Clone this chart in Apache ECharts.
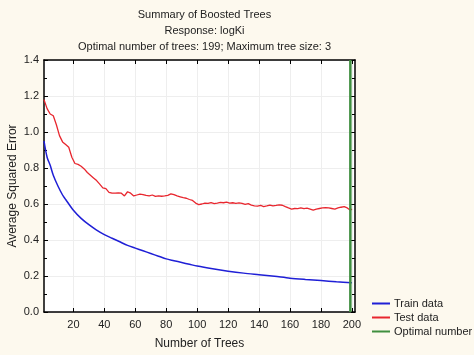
<!DOCTYPE html>
<html><head><meta charset="utf-8">
<script src="https://cdn.jsdelivr.net/npm/echarts@6/dist/echarts.min.js"></script>
<style>html,body{margin:0;padding:0;background:#FDF9EE;}#c{width:474px;height:355px;}</style>
</head><body><div id="c"></div>
<script>
const xTicks = [20,40,60,80,100,120,140,160,180,200];
const testTrees = [1,3,5,7,9,11,13,15,17,19,21,23,25,27,29,31,33,35,37,39,41,43,45,47,49,51,53,55,57,59,61,63,65,67,69,71,73,75,77,79,81,83,85,87,89,91,93,95,97,99,101,103,105,107,109,111,113,115,117,119,121,123,125,127,129,131,133,135,137,139,141,143,145,147,149,151,153,155,157,159,161,163,165,167,169,171,173,175,177,179,181,183,185,187,189,191,193,195,197,199,200];
const testError = [1.18,1.13,1.10,1.09,1.04,0.98,0.945,0.93,0.915,0.86,0.825,0.82,0.81,0.795,0.775,0.76,0.745,0.73,0.71,0.69,0.685,0.665,0.66,0.66,0.662,0.66,0.645,0.668,0.66,0.645,0.65,0.655,0.652,0.648,0.645,0.65,0.642,0.645,0.643,0.645,0.648,0.656,0.652,0.645,0.64,0.635,0.632,0.625,0.62,0.605,0.597,0.6,0.605,0.603,0.607,0.602,0.605,0.609,0.607,0.61,0.605,0.607,0.604,0.606,0.603,0.598,0.602,0.594,0.59,0.588,0.592,0.586,0.589,0.594,0.59,0.592,0.595,0.593,0.585,0.578,0.572,0.575,0.574,0.578,0.574,0.577,0.572,0.566,0.572,0.575,0.578,0.58,0.578,0.575,0.572,0.578,0.582,0.585,0.578,0.565,0.572];
const trainTrees = [1,3,5,7,10,13,15,20,25,30,35,40,45,50,55,60,65,70,75,80,85,90,95,100,110,120,130,140,150,160,170,180,190,200];
const trainError = [0.95,0.86,0.815,0.76,0.70,0.65,0.625,0.565,0.52,0.485,0.455,0.43,0.41,0.39,0.37,0.355,0.34,0.325,0.31,0.295,0.285,0.275,0.265,0.255,0.24,0.227,0.216,0.207,0.198,0.188,0.181,0.175,0.168,0.162];
const optimalTrees = 199;
const yMin = 0, yMax = 1.4;
const titleLines = ['Summary of Boosted Trees','Response: logKi','Optimal number of trees: 199; Maximum tree size: 3'];

const font = 'Liberation Sans, Arial, sans-serif';
const chart = echarts.init(document.getElementById('c'));
const pairs = (xs, ys) => xs.map((x,i)=>[x, ys[i]]);
const axisLine = {show:true, onZero:false, lineStyle:{color:'#000', width:1.5}};
chart.setOption({
  backgroundColor:'#FDF9EE',
  animation:false,
  title:{text:titleLines.join('\n'), left:199.5, textAlign:'center', top:2,
    textStyle:{fontFamily:font, fontSize:11, fontWeight:'normal', color:'#222', lineHeight:16}},
  legend:{orient:'vertical', left:367, top:293, icon:'rect', itemWidth:18, itemHeight:2, itemGap:3,
    textStyle:{fontFamily:font, fontSize:11, color:'#222', padding:[0,0,0,-1]},
    data:['Train data','Test data','Optimal number']},
  grid:{left:44, right:119, top:60, bottom:43, show:true, backgroundColor:'#fff', borderWidth:0,
    containLabel:false, outerBoundsMode:'none'},
  xAxis:[{type:'value', min:1, max:202, position:'bottom',
      name:'Number of Trees', nameLocation:'middle', nameGap:26, nameMoveOverlap:false,
      nameTextStyle:{fontFamily:font, fontSize:12, color:'#222'},
      axisLine, axisTick:{inside:true, length:4, customValues:xTicks, lineStyle:{color:'#000'}},
      axisLabel:{customValues:xTicks, fontFamily:font, fontSize:11, color:'#222', margin:7},
      splitLine:{show:true, lineStyle:{color:'#eeeeee', width:1}}},
    {type:'value', min:1, max:202, position:'top',
      axisLine, axisTick:{inside:true, length:4, customValues:xTicks, lineStyle:{color:'#000'}},
      axisLabel:{show:false}, splitLine:{show:false}}],
  yAxis:[{type:'value', min:yMin, max:yMax, interval:0.2, position:'left',
      name:'Average Squared Error', nameLocation:'middle', nameGap:25, nameMoveOverlap:false,
      nameTextStyle:{fontFamily:font, fontSize:12, color:'#222'},
      axisLine, axisTick:{inside:true, length:4, lineStyle:{color:'#000'}},
      minorTick:{show:true, splitNumber:2, length:3, lineStyle:{color:'#000'}},
      axisLabel:{formatter:v=>v.toFixed(1), fontFamily:font, fontSize:11, color:'#222', margin:5},
      splitLine:{show:true, lineStyle:{color:'#eeeeee', width:1}}},
    {type:'value', min:yMin, max:yMax, interval:0.2, position:'right',
      axisLine, axisTick:{inside:true, length:4, lineStyle:{color:'#000'}},
      minorTick:{show:true, splitNumber:2, length:3, lineStyle:{color:'#000'}},
      axisLabel:{show:false}, splitLine:{show:false}}],
  series:[
    {name:'Train data', type:'line', data:pairs(trainTrees, trainError), symbol:'none', smooth:0.3,
      lineStyle:{color:'#1f1fd6', width:1.5}, itemStyle:{color:'#1f1fd6'}},
    {name:'Test data', type:'line', data:pairs(testTrees, testError), symbol:'none',
      lineStyle:{color:'#e8262e', width:1.3}, itemStyle:{color:'#e8262e'}},
    {name:'Optimal number', type:'line', data:[[optimalTrees,yMin],[optimalTrees,yMax]], symbol:'none',
      lineStyle:{color:'#3f8f3f', width:2.5}, itemStyle:{color:'#3f8f3f'}}
  ]
});
</script></body></html>
